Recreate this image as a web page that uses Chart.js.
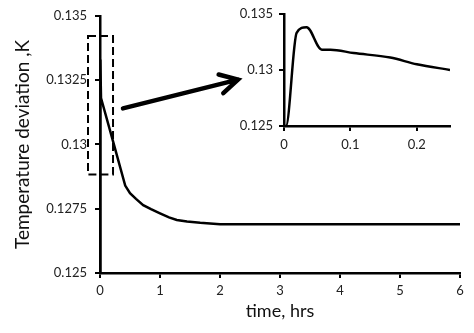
<!DOCTYPE html>
<html>
<head>
<meta charset="utf-8">
<script src="https://cdn.jsdelivr.net/npm/chart.js@4"></script>
<style>
  body { margin: 0; background: #fff; }
  #wrap { position: relative; width: 474px; height: 333px; }
  #inset { position: absolute; left: 230px; top: 0px; }
</style>
</head>
<body>
<div id="wrap">
  <canvas id="main" width="474" height="333"></canvas>
  <canvas id="inset" width="244" height="160"></canvas>
</div>
<script>
// main plot: time in hrs, temperature deviation in K
let mainTimes = [0, 0.005, 0.017, 0.22, 0.42, 0.5, 0.6, 0.72, 0.85, 1.0, 1.15, 1.28, 1.45, 1.67, 2, 3, 4, 5, 6];
let mainTemps = [0.125, 0.1333, 0.1318, 0.1301, 0.1284, 0.1281, 0.12788, 0.12764, 0.12748, 0.12732, 0.12716, 0.12706, 0.12700, 0.12695, 0.1269, 0.1269, 0.1269, 0.1269, 0.1269];

// inset: first 0.25 hrs
let insetTimes = [0, 0.003, 0.019, 0.034, 0.057, 0.07, 0.105, 0.16, 0.2, 0.25];
let insetTemps = [0.125, 0.125, 0.1333, 0.1338, 0.1318, 0.1318, 0.1315, 0.1311, 0.1305, 0.1300];

let mainXTicks = [0, 1, 2, 3, 4, 5, 6];
let mainYTicks = [0.125, 0.1275, 0.13, 0.1325, 0.135];
let mainYLabels = ['0.125', '0.1275', '0.13', '0.1325', '0.135'];
let insetXTicks = [0, 0.1, 0.2];
let insetXLabels = ['0', '0.1', '0.2'];
let insetYTicks = [0.125, 0.13, 0.135];
let insetYLabels = ['0.125', '0.13', '0.135'];

// zoom box + arrow, in data units of the main chart
let zoomBox = { x0: -0.2, x1: 0.217, y0: 0.12883, y1: 0.13421 };
let arrow = { x0: 0.383, y0: 0.1314, x1: 2.3, y1: 0.13252 };

let font = 'Lato';

function toPts(xs, ys) { return xs.map((t, i) => ({ x: t, y: ys[i] })); }

function fixTicks(vals) {
  return function (scale) { scale.ticks = vals.map(v => ({ value: v })); };
}

function axis(min, max, vals, labels, fitSize, horizontal, pad) {
  return {
    type: 'linear', min: min, max: max,
    afterBuildTicks: fixTicks(vals),
    afterFit: function (s) { if (horizontal) s.height = fitSize; else s.width = fitSize; },
    border: { color: '#000', width: 2.5 },
    grid: { drawOnChartArea: false, drawTicks: true, tickLength: 5, color: '#000', lineWidth: 2 },
    ticks: {
      color: '#222', padding: pad, maxRotation: 0,
      font: { family: font, size: 13 },
      callback: function (v, i) { return labels ? labels[i] : String(v); }
    }
  };
}

// dashed box and arrow on main chart
let overlay = {
  id: 'overlay',
  afterDatasetsDraw(chart) {
    let ctx = chart.ctx, xs = chart.scales.x, ys = chart.scales.y;
    ctx.save();
    ctx.strokeStyle = '#000';
    ctx.lineWidth = 2;
    ctx.setLineDash([8, 4]);
    let bx0 = xs.getPixelForValue(zoomBox.x0), bx1 = xs.getPixelForValue(zoomBox.x1);
    let by0 = ys.getPixelForValue(zoomBox.y1), by1 = ys.getPixelForValue(zoomBox.y0);
    ctx.strokeRect(bx0, by0, bx1 - bx0, by1 - by0);
    ctx.setLineDash([]);
    let ax0 = xs.getPixelForValue(arrow.x0), ay0 = ys.getPixelForValue(arrow.y0);
    let ax1 = xs.getPixelForValue(arrow.x1), ay1 = ys.getPixelForValue(arrow.y1);
    ctx.lineWidth = 4.5;
    ctx.lineCap = 'round';
    ctx.beginPath();
    ctx.moveTo(ax0, ay0);
    ctx.lineTo(ax1, ay1);
    let ang = Math.atan2(ay1 - ay0, ax1 - ax0);
    let len = 20;
    ctx.moveTo(ax1 - len * Math.cos(ang - 0.5), ay1 - len * Math.sin(ang - 0.5));
    ctx.lineTo(ax1, ay1);
    ctx.lineTo(ax1 - len * Math.cos(ang + 0.5), ay1 - len * Math.sin(ang + 0.5));
    ctx.stroke();
    ctx.restore();
  }
};

function lineSet(pts, tension) {
  return {
    data: pts,
    borderColor: '#000',
    borderWidth: 2.5,
    pointRadius: 0,
    tension: tension,
    cubicInterpolationMode: tension ? 'monotone' : 'default',
    fill: false
  };
}

let mainX = axis(0, 6, mainXTicks, null, 60, true, 5);
mainX.title = { display: true, text: 'time, hrs', color: '#111', font: { family: font, size: 18 }, padding: { top: 0, bottom: 11 } };
let mainY = axis(0.125, 0.135, mainYTicks, mainYLabels, 100, false, 8);
mainY.title = { display: true, text: 'Temperature deviation ,K', color: '#111', font: { family: font, size: 19 }, padding: { top: 11, bottom: 0 } };

new Chart(document.getElementById('main'), {
  type: 'line',
  data: { datasets: [lineSet(toPts(mainTimes, mainTemps), 0)] },
  options: {
    responsive: false, animation: false, devicePixelRatio: 1,
    layout: { padding: { left: 0, right: 14, top: 13, bottom: 0 } },
    plugins: { legend: { display: false }, tooltip: { enabled: false } },
    scales: { x: mainX, y: mainY }
  },
  plugins: [overlay]
});

new Chart(document.getElementById('inset'), {
  type: 'line',
  data: { datasets: [lineSet(toPts(insetTimes, insetTemps), 0.4)] },
  options: {
    responsive: false, animation: false, devicePixelRatio: 1,
    layout: { padding: { left: 0, right: 24, top: 12, bottom: 0 } },
    plugins: { legend: { display: false }, tooltip: { enabled: false } },
    scales: {
      x: axis(0, 0.25, insetXTicks, insetXLabels, 34, true, 6),
      y: axis(0.125, 0.135, insetYTicks, insetYLabels, 54, false, 6)
    }
  }
});
</script>
</body>
</html>
